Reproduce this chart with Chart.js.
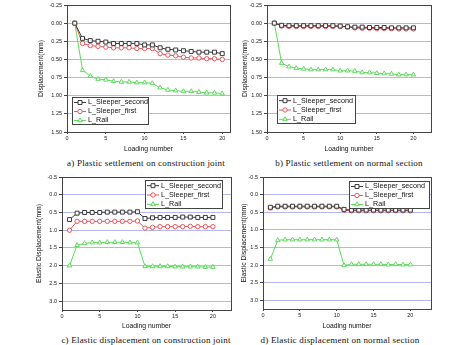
<!DOCTYPE html>
<html>
<head>
<meta charset="utf-8">
<script src="https://cdn.jsdelivr.net/npm/chart.js@4/dist/chart.umd.min.js"></script>
<style>
  body { margin: 0; background: #fff; width: 474px; height: 345px; position: relative; overflow: hidden; }
  canvas { position: absolute; }
  .cap { position: absolute; font-family: "Liberation Serif", "DejaVu Serif", serif; font-size: 9px; line-height: 10px;
         color: #111; white-space: nowrap; transform: translateX(-50%); letter-spacing: 0.2px; }
</style>
</head>
<body>
<canvas id="pa" width="237" height="155" style="left:0;top:0"></canvas>
<canvas id="pb" width="237" height="155" style="left:237px;top:0"></canvas>
<canvas id="pc" width="237" height="162" style="left:0;top:170px"></canvas>
<canvas id="pd" width="237" height="162" style="left:237px;top:170px"></canvas>
<div class="cap" style="left:146px;top:158px">a) Plastic settlement on construction joint</div>
<div class="cap" style="left:349px;top:158px">b) Plastic settlement on normal section</div>
<div class="cap" style="left:146px;top:335px">c) Elastic displacement on construction joint</div>
<div class="cap" style="left:340px;top:335px">d) Elastic displacement on normal section</div>
<script>
// loading steps
const loadingNumber = [1, 2, 3, 4, 5, 6, 7, 8, 9, 10, 11, 12, 13, 14, 15, 16, 17, 18, 19, 20];
const seriesNames = ['L_Sleeper_second', 'L_Sleeper_first', 'L_Rail'];
const xTicks = [0, 5, 10, 15, 20];
const plasticTicks = [-0.25, 0, 0.25, 0.5, 0.75, 1.0, 1.25, 1.5];
const elasticTicks = [-0.5, 0, 0.5, 1.0, 1.5, 2.0, 2.5, 3.0];

// a) plastic settlement, construction joint
const aSecond = [0, 0.21, 0.24, 0.25, 0.26, 0.28, 0.28, 0.28, 0.28, 0.30, 0.30, 0.34, 0.36, 0.37, 0.38, 0.39, 0.40, 0.40, 0.40, 0.42];
const aFirst  = [0, 0.28, 0.31, 0.32, 0.33, 0.34, 0.34, 0.34, 0.35, 0.35, 0.35, 0.42, 0.44, 0.45, 0.47, 0.48, 0.48, 0.49, 0.49, 0.50];
const aRail   = [0, 0.65, 0.73, 0.77, 0.78, 0.80, 0.81, 0.81, 0.82, 0.82, 0.83, 0.89, 0.92, 0.93, 0.94, 0.94, 0.95, 0.96, 0.96, 0.97];

// b) plastic settlement, normal section
const bSecond = [0, 0.03, 0.035, 0.035, 0.035, 0.035, 0.035, 0.035, 0.035, 0.04, 0.05, 0.055, 0.055, 0.06, 0.06, 0.06, 0.065, 0.065, 0.065, 0.065];
const bFirst  = [0, 0.04, 0.045, 0.045, 0.045, 0.045, 0.045, 0.045, 0.045, 0.045, 0.055, 0.065, 0.07, 0.07, 0.075, 0.075, 0.075, 0.08, 0.08, 0.08];
const bRail   = [0, 0.55, 0.60, 0.62, 0.63, 0.64, 0.64, 0.64, 0.64, 0.655, 0.655, 0.66, 0.68, 0.68, 0.69, 0.695, 0.70, 0.71, 0.71, 0.71];

// c) elastic displacement, construction joint
const cSecond = [0.70, 0.52, 0.50, 0.50, 0.50, 0.49, 0.49, 0.49, 0.49, 0.48, 0.67, 0.65, 0.64, 0.64, 0.64, 0.63, 0.63, 0.64, 0.64, 0.64];
const cFirst  = [1.00, 0.75, 0.75, 0.75, 0.75, 0.75, 0.75, 0.75, 0.75, 0.74, 0.94, 0.92, 0.90, 0.90, 0.90, 0.90, 0.89, 0.90, 0.90, 0.90];
const cRail   = [2.00, 1.42, 1.37, 1.35, 1.35, 1.34, 1.34, 1.34, 1.35, 1.35, 2.02, 2.02, 2.02, 2.02, 2.03, 2.03, 2.03, 2.03, 2.04, 2.04];

// d) elastic displacement, normal section
const dSecond = [0.36, 0.33, 0.33, 0.33, 0.33, 0.33, 0.33, 0.33, 0.33, 0.33, 0.42, 0.44, 0.44, 0.44, 0.44, 0.44, 0.44, 0.44, 0.44, 0.44];
const dFirst  = [0.38, 0.35, 0.35, 0.35, 0.35, 0.35, 0.35, 0.35, 0.35, 0.35, 0.44, 0.46, 0.46, 0.46, 0.46, 0.46, 0.46, 0.46, 0.46, 0.46];
const dRail   = [1.83, 1.30, 1.28, 1.28, 1.28, 1.28, 1.28, 1.28, 1.28, 1.28, 2.01, 1.98, 1.98, 1.98, 1.98, 1.98, 1.99, 1.98, 1.99, 1.99];

const colors = ['#3a3a3a', '#e8565c', '#5cdc5c'];
const markers = ['rect', 'circle', 'triangle'];
const radii = [2.8, 2.2, 2.6];
const sans = '"Liberation Sans", Arial, sans-serif';

function drawMarker(ctx, style, x, y, r) {
  ctx.beginPath();
  if (style === 'rect') {
    const s = r * Math.SQRT1_2;
    ctx.rect(x - s, y - s, 2 * s, 2 * s);
  } else if (style === 'circle') {
    ctx.arc(x, y, r, 0, Math.PI * 2);
  } else {
    ctx.moveTo(x, y - r);
    ctx.lineTo(x + r * 0.87, y + r * 0.5);
    ctx.lineTo(x - r * 0.87, y + r * 0.5);
    ctx.closePath();
  }
  ctx.fill();
  ctx.stroke();
}

// box round the plot like Origin
const framePlugin = {
  id: 'frame',
  beforeDatasetsDraw(chart) {
    const { ctx, chartArea: a } = chart;
    ctx.save();
    ctx.strokeStyle = '#444';
    ctx.lineWidth = 1;
    ctx.strokeRect(Math.round(a.left) + 0.5, Math.round(a.top) + 0.5, Math.round(a.right - a.left), Math.round(a.bottom - a.top));
    ctx.restore();
  }
};

const boxLegend = {
  id: 'boxLegend',
  afterDraw(chart, args, opts) {
    const ctx = chart.ctx;
    ctx.save();
    ctx.fillStyle = '#fff';
    ctx.fillRect(opts.left, opts.top, opts.width, opts.height);
    ctx.strokeStyle = '#444';
    ctx.lineWidth = 1;
    ctx.strokeRect(opts.left + 0.5, opts.top + 0.5, opts.width, opts.height);
    ctx.font = '7.2px ' + sans;
    ctx.textBaseline = 'middle';
    chart.data.datasets.forEach((ds, i) => {
      const y = opts.top + opts.height * (i + 0.5) / 3 + 1;
      ctx.strokeStyle = ds.borderColor;
      ctx.beginPath();
      ctx.moveTo(opts.left + 2, y);
      ctx.lineTo(opts.left + 14, y);
      ctx.stroke();
      ctx.fillStyle = '#fff';
      drawMarker(ctx, ds.pointStyle, opts.left + 8, y, ds.pointRadius);
      ctx.fillStyle = '#111';
      ctx.fillText(ds.label, opts.left + 16, y);
    });
    ctx.restore();
  }
};

function makePanel(id, values, p) {
  const datasets = values.map((v, i) => ({
    label: seriesNames[i],
    data: v,
    borderColor: colors[i],
    borderWidth: 1,
    pointStyle: markers[i],
    pointRadius: radii[i],
    pointBorderWidth: 1,
    pointBackgroundColor: '#fff',
    pointBorderColor: colors[i],
    tension: 0
  }));
  new Chart(document.getElementById(id), {
    type: 'line',
    data: { labels: loadingNumber, datasets: datasets },
    options: {
      responsive: false,
      animation: false,
      layout: { padding: { left: 0, right: p.right, top: p.top, bottom: 0 } },
      plugins: {
        legend: { display: false },
        tooltip: { enabled: false },
        boxLegend: p.legend
      },
      scales: {
        x: {
          type: 'linear',
          min: 0,
          max: p.xMax,
          ticks: { font: { family: sans, size: 5.5 }, color: '#222', padding: 1, maxRotation: 0 },
          grid: { drawOnChartArea: false, tickLength: 2, color: '#444' },
          border: { color: '#444' },
          title: { display: true, text: 'Loading number', font: { family: sans, size: 6.8 }, color: '#111', padding: { top: 0, bottom: 1.5 } },
          afterBuildTicks(s) { s.ticks = xTicks.map(v => ({ value: v })); },
          afterFit(s) { s.height = p.xh; s.paddingLeft = 0; s.paddingRight = 0; }
        },
        y: {
          type: 'linear',
          reverse: true,
          min: p.yMin,
          max: p.yMax,
          ticks: { font: { family: sans, size: 5.5 }, color: '#222', padding: 2,
                   callback: v => Number(v).toFixed(p.dec) },
          grid: { color: '#b4b6ee', tickColor: '#444', tickLength: 3, lineWidth: 1 },
          border: { color: '#444' },
          title: { display: true, text: p.yTitle, font: { family: sans, size: 6.8 }, color: '#111', padding: { top: p.titlePad, bottom: 0 } },
          afterBuildTicks(s) { s.ticks = p.yTicks.map(v => ({ value: v })); },
          afterFit(s) { s.width = p.yw; s.paddingTop = 0; s.paddingBottom = 0; }
        }
      }
    },
    plugins: [framePlugin, boxLegend]
  });
}

makePanel('pa', [aSecond, aFirst, aRail], {
  xMax: 21, yMin: -0.25, yMax: 1.5, yTicks: plasticTicks, dec: 2, yTitle: 'Displacement(mm)',
  yw: 67, xh: 23, right: 7, top: 2, titlePad: 37,
  legend: { left: 72, top: 97, width: 76, height: 27 }
});
makePanel('pb', [bSecond, bFirst, bRail], {
  xMax: 22.4, yMin: -0.25, yMax: 1.5, yTicks: plasticTicks, dec: 2, yTitle: 'Displacement(mm)',
  yw: 30, xh: 23, right: 43, top: 2, titlePad: 4,
  legend: { left: 40, top: 95, width: 78, height: 28 }
});
makePanel('pc', [cSecond, cFirst, cRail], {
  xMax: 22.4, yMin: -0.5, yMax: 3.25, yTicks: elasticTicks, dec: 1, yTitle: 'Elastic Displacement(mm)',
  yw: 62, xh: 22, right: 6, top: 7, titlePad: 35,
  legend: { left: 145, top: 10, width: 77, height: 28 }
});
makePanel('pd', [dSecond, dFirst, dRail], {
  xMax: 22.8, yMin: -0.5, yMax: 3.25, yTicks: elasticTicks, dec: 1, yTitle: 'Elastic Displacement(mm)',
  yw: 26, xh: 23, right: 43, top: 7, titlePad: 3,
  legend: { left: 112, top: 11, width: 80, height: 27 }
});
</script>
</body>
</html>
